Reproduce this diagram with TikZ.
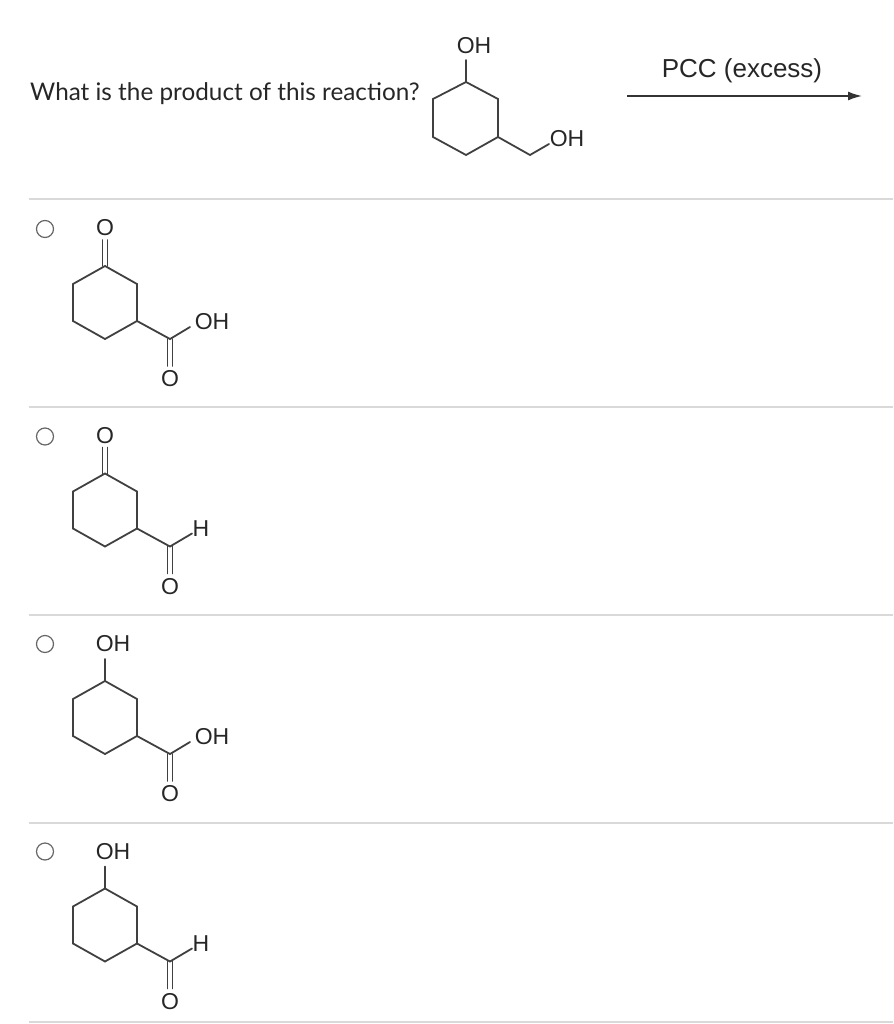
\documentclass[tikz,border=0pt]{standalone}
\usepackage{fontspec}
\setmainfont{Lato}
\newfontfamily\arial{Liberation Sans}
\usetikzlibrary{arrows.meta}
\begin{document}
\begin{tikzpicture}[x=1pt,y=-1pt,
  bond/.style={line width=1.8pt,color=black!75,line cap=round},
  lab/.style={font=\arial\fontsize{23}{23}\selectfont,inner sep=0pt,text=black!85},
  sep/.style={draw=black!15,line width=1.2pt},
  radio/.style={circle,draw=black!60,line width=1.2pt,minimum size=17pt,inner sep=0pt}]
\useasboundingbox (0,0) rectangle (893,1024);
\node[anchor=west,font=\fontsize{24.3}{25}\selectfont,text=black!85,inner sep=0pt] (q) at (30,94) {What is the product of this reaction?};
% reactant
\coordinate (t) at (466,82); \coordinate (ul) at (433,99); \coordinate (ll) at (433,137);
\coordinate (b) at (466,155); \coordinate (lr) at (498,137); \coordinate (ur) at (498,99);
\coordinate (ch) at (530,155);
\draw[bond] (t)--(ul)--(ll)--(b)--(lr)--(ur)--cycle;
\draw[bond] (t)--(466,60); \draw[bond] (lr)--(ch)--(549,144);
\node[lab] (oh1) at (474,46) {OH};
\node[lab] (oh2) at (567,139) {OH};
\coordinate (a1) at (627,96); \coordinate (a2) at (862,96);
\draw[line width=1.6pt,black!80,-{Latex[length=14pt,width=9pt]}] (a1)--(a2);
\node[font=\arial\fontsize{26}{26}\selectfont,text=black!85] (pcc) at (742,71) {PCC (excess)};
% separators
\foreach \y in {199,407,615,823,1022} \draw[sep] (29,\y)--(893,\y);
% options
\foreach \k in {0,1,2,3}{
 \begin{scope}[yshift={-207.5*\k}]
  \node[radio] (r\k) at (45,229) {};
  \draw[bond] (105,266)--(73,284)--(73,321)--(105,339)--(137,321)--(137,284)--cycle;
  \draw[bond] (137,321)--(170,339);
  \draw[bond] (167.5,339)--(167.5,366); \draw[bond] (172.5,339)--(172.5,366);
  \node[lab] (o\k) at (170,379) {O};
 \end{scope}
}
\foreach \k in {0,1}{
 \begin{scope}[yshift={-207.5*\k}]
  \draw[bond] (102.5,266)--(102.5,240); \draw[bond] (107.5,266)--(107.5,240);
  \node[lab] (ok\k) at (105,228) {O};
 \end{scope}}
\foreach \k in {2,3}{
 \begin{scope}[yshift={-207.5*\k}]
  \draw[bond] (105,266)--(105,244);
  \node[lab] (oh\k) at (113,229) {OH};
 \end{scope}}
\foreach \k in {0,2}{
 \begin{scope}[yshift={-207.5*\k}]
  \draw[bond] (170,339)--(190,327);
  \node[lab] (coh\k) at (212,322) {OH};
 \end{scope}}
\foreach \k in {1,3}{
 \begin{scope}[yshift={-207.5*\k}]
  \draw[bond] (170,339)--(192,326);
  \node[lab] (h\k) at (201,321) {H};
 \end{scope}}
\end{tikzpicture}
\end{document}
